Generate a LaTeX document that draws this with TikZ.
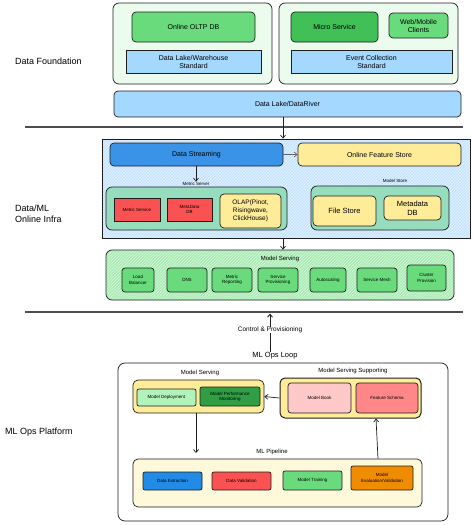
\documentclass[tikz,border=0pt]{standalone}
\usepackage{fontspec}
\setmainfont{Liberation Sans}
\usetikzlibrary{patterns,arrows.meta}
\definecolor{cgreenbg}{HTML}{EBFBEE}
\definecolor{cgreen}{HTML}{69DB7C}
\definecolor{cgreendk}{HTML}{40C057}
\definecolor{cgreendd}{HTML}{2F9E44}
\definecolor{cgreenlt}{HTML}{B2F2BB}
\definecolor{cblue}{HTML}{A5D8FF}
\definecolor{cbluebg}{HTML}{C5E4FF}
\definecolor{cbluept}{HTML}{EAF5FF}
\definecolor{cbluedk}{HTML}{3A93E6}
\definecolor{cbluedd}{HTML}{228BE6}
\definecolor{cyellow}{HTML}{FFEC99}
\definecolor{cyellowlt}{HTML}{FFF9DB}
\definecolor{cteal}{HTML}{96DDBE}
\definecolor{cred}{HTML}{FA5252}
\definecolor{credlt}{HTML}{FF8787}
\definecolor{cpink}{HTML}{FFC9C9}
\definecolor{corange}{HTML}{F08C00}
\definecolor{cmsbg}{HTML}{A8EBB4}
\definecolor{cmspt}{HTML}{D8F8DD}
\definecolor{cline}{HTML}{1E1E1E}
\newcommand\bx[7]{%
 \pgfmathsetmacro\bxcx{(#2+#4)/2}\pgfmathsetmacro\bxcy{(#3+#5)/2}%
 \pgfmathsetmacro\bxw{#4-#2}\pgfmathsetmacro\bxh{#5-#3}%
 \node[#6, minimum width=\bxw pt, minimum height=\bxh pt] (#1) at (\bxcx,\bxcy) {#7};}
\tikzset{
 base/.style={draw=cline, line width=0.7pt, inner sep=0pt, align=center, font=\fontsize{5.5}{6.5}\selectfont},
 rbox/.style={base, rounded corners=4pt},
 sbox/.style={base},
 tiny/.style={font=\fontsize{4.5}{5.3}\selectfont},
 small/.style={font=\fontsize{7}{8}\selectfont},
 lbl/.style={inner sep=0pt, align=left, font=\fontsize{9}{11}\selectfont},
 clbl/.style={inner sep=0pt, align=center, font=\fontsize{5}{6}\selectfont},
 arr/.style={-{Straight Barb[length=3pt,width=5pt]}, line width=0.7pt, draw=cline},
 sep/.style={draw=black!70, line width=1.3pt},
}
\begin{document}
\begin{tikzpicture}[x=1pt,y=-1pt]
\useasboundingbox (0,0) rectangle (474,525);
% ---------- Data Foundation ----------
\bx{lc}{113}{3}{272}{84}{rbox, fill=cgreenbg, rounded corners=6pt}{}
\bx{oltp}{132}{12}{255}{42}{rbox, fill=cgreen, small}{Online OLTP DB}
\bx{dlws}{126}{50}{261}{73}{sbox, fill=cblue, small}{Data Lake/Warehouse\\Standard}
\bx{rc}{279}{3}{458}{84}{rbox, fill=cgreenbg, rounded corners=6pt}{}
\bx{micro}{291}{12}{378}{42}{rbox, fill=cgreendk, small}{Micro Service}
\bx{web}{389}{13}{448}{38}{rbox, fill=cgreen, small}{Web/Mobile\\Clients}
\bx{ecs}{291}{50}{452}{73}{sbox, fill=cblue, small}{Event Collection\\Standard}
\bx{river}{114}{91}{461}{117}{rbox, fill=cblue, small}{Data Lake/DataRiver}
\node[lbl, anchor=west] (df) at (15,61) {Data Foundation};
\coordinate (s1a) at (25,127); \coordinate (s1b) at (463,127);
\draw[sep] (s1a) -- (s1b);
% ---------- Online Infra ----------
\bx{infra}{102}{139}{470}{238}{sbox, preaction={fill=cbluebg}, pattern={north east lines}, pattern color=cbluept}{}
\draw[arr] (river.south -| 283,0) -- (infra.north -| 283,0);
\bx{stream}{110}{143}{283}{166}{rbox, fill=cbluedk, small}{Data Streaming}
\bx{ofs}{298}{143}{461}{166}{rbox, fill=cyellow, small}{Online Feature Store}
\draw[arr, draw=black!60] (stream.east) -- (ofs.west);
\bx{ms}{106}{187}{287}{230}{rbox, fill=cteal, rounded corners=6pt}{}
\node[clbl, tiny] (mslbl) at (196,183.5) {Metric Server};
\draw[arr] (stream.south -| 196,0) -- (mslbl.north);
\bx{msvc}{114}{198}{160}{221}{sbox, fill=cred, tiny}{Metric Service}
\bx{mdb}{167}{198}{212}{221}{sbox, fill=cred, tiny}{MetaData\\DB}
\bx{olap}{220}{194}{281}{228}{rbox, fill=cyellow, font=\fontsize{6.5}{7.8}\selectfont}{OLAP(Pinot,\\Risingwave,\\ClickHouse)}
\bx{mst}{311}{186}{449}{230}{rbox, fill=cteal, rounded corners=6pt}{}
\node[clbl, tiny] (mstlbl) at (395,180.5) {Model Store};
\bx{fs}{313}{196}{376}{226}{rbox, fill=cyellow, font=\fontsize{7.5}{9}\selectfont}{File Store}
\bx{mdb2}{384}{196}{441}{220}{rbox, fill=cyellow, font=\fontsize{7.5}{9}\selectfont}{Metadata\\DB}
\node[lbl, anchor=west] (dml) at (15,214) {Data/ML\\Online Infra};
% ---------- Model Serving ----------
\bx{mserv}{106}{250}{454}{300}{rbox, preaction={fill=cmsbg}, pattern={north east lines}, pattern color=cmspt, rounded corners=6pt}{}
\draw[arr] (infra.south -| 283,0) -- (mserv.north -| 283,0);
\node[clbl, font=\fontsize{6}{7}\selectfont] (msl) at (280,259) {Model Serving};
\bx{lb}{122}{268}{154}{292}{rbox, fill=cgreen, tiny, rounded corners=3pt}{Load\\Balancer}
\bx{dns}{167}{268}{207}{292}{rbox, fill=cgreen, tiny, rounded corners=3pt}{DNS}
\bx{mrep}{212}{268}{252}{292}{rbox, fill=cgreen, tiny, rounded corners=3pt}{Metric\\Reporting}
\bx{sprov}{258}{268}{298}{292}{rbox, fill=cgreen, tiny, rounded corners=3pt}{Service\\Provisioning}
\bx{auto}{310}{268}{346}{292}{rbox, fill=cgreen, tiny, rounded corners=3pt}{Autoscaling}
\bx{smesh}{357}{268}{397}{292}{rbox, fill=cgreen, tiny, rounded corners=3pt}{Service Mesh}
\bx{cprov}{407}{265}{446}{291}{rbox, fill=cgreen, tiny, rounded corners=3pt}{Cluster\\Provision}
\coordinate (s2a) at (25,312); \coordinate (s2b) at (463,312);
\draw[sep] (s2a) -- (s2b);
% ---------- ML Ops ----------
\node[clbl, font=\fontsize{6.5}{7.5}\selectfont] (ctrl) at (270,330) {Control \& Provisioning};
\node[clbl, font=\fontsize{7.5}{8.5}\selectfont] (loop) at (275,356) {ML Ops Loop};
\draw[line width=0.9pt, draw=cline] (loop.north -| 270,0) -- (ctrl.south -| 270,0);
\draw[arr, line width=0.9pt] (ctrl.north -| 270,0) -- (270,313.5);
\bx{ops}{118}{363}{448}{521}{rbox, fill=white, rounded corners=7pt}{}
\node[lbl, anchor=west] (mop) at (5,432) {ML Ops Platform};
\node[clbl, font=\fontsize{6}{7}\selectfont] (msl2) at (200,373) {Model Serving};
\bx{msy}{133}{380}{264}{413}{rbox, fill=cyellow, rounded corners=5pt}{}
\bx{mdep}{137}{389}{196}{406}{rbox, fill=cgreenlt, tiny, rounded corners=2pt}{Model Deployment}
\bx{mpm}{200}{387}{260}{406}{rbox, fill=cgreendd, tiny, rounded corners=2pt}{Model Performance\\Monitoring}
\node[clbl, font=\fontsize{6}{7}\selectfont] (mssl) at (353,371) {Model Serving Supporting};
\bx{mss}{280}{378}{421}{418}{rbox, fill=cyellow, line width=1pt, rounded corners=5pt}{}
\bx{mbook}{288}{383}{351}{413}{rbox, fill=cpink, tiny, rounded corners=3pt}{Model Book}
\bx{fsch}{356}{383}{418}{413}{rbox, fill=credlt, tiny, rounded corners=3pt}{Feature Schema}
\draw[arr] (mss.west) -- (msy.east);
\node[clbl, font=\fontsize{6}{7}\selectfont] (mlpl) at (272,452) {ML Pipeline};
\bx{pipe}{133}{459}{422}{507}{rbox, fill=cyellowlt, rounded corners=5pt}{}
\coordinate (pdown) at (196,453);
\draw[arr] (msy.south -| 196,0) -- (pdown);
\draw[arr] (pipe.north -| 378,0) -- (mss.south -| 376,0);
\bx{dext}{143}{472}{202}{490}{rbox, fill=cbluedd, tiny, rounded corners=2pt}{Data Extraction}
\bx{dval}{212}{472}{271}{490}{rbox, fill=cred, tiny, rounded corners=2pt}{Data Validation}
\bx{mtr}{283}{471}{342}{490}{rbox, fill=cgreen, tiny, rounded corners=2pt}{Model Training}
\bx{mev}{351}{466}{413}{490}{rbox, fill=corange, tiny, rounded corners=2pt}{Model\\Evaluation/Validation}
\end{tikzpicture}
\end{document}
